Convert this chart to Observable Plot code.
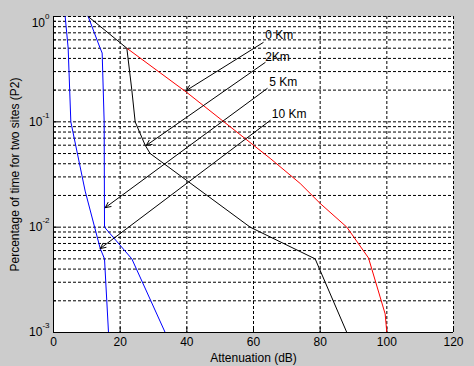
<!DOCTYPE html>
<html><head><meta charset="utf-8">
<script src="https://cdn.jsdelivr.net/npm/d3@7"></script>
<script src="https://cdn.jsdelivr.net/npm/@observablehq/plot@0.6"></script>
<style>
html,body{margin:0;padding:0;background:#cccccc;overflow:hidden;}
</style></head><body><div id="chart"></div>
<script>
// Tick values
const xTicks = [0, 20, 40, 60, 80, 100, 120];
const yMajorTicks = [1, 0.1, 0.01, 0.001];
const yMinorTicks = [0.002,0.003,0.004,0.005,0.006,0.007,0.008,0.009,
                     0.02,0.03,0.04,0.05,0.06,0.07,0.08,0.09,
                     0.2,0.3,0.4,0.5,0.6,0.7,0.8,0.9];

// Series (Attenuation dB, P2)
const km0Att = [22, 40, 65, 74, 80, 88, 94.5, 99.5, 100];
const km0P   = [0.5, 0.19, 0.045, 0.026, 0.0168, 0.01, 0.0051, 0.0015, 0.001];
const km2Att = [10.4, 22, 23.5, 24.5, 27.5, 29, 59, 78.5, 88];
const km2P   = [1, 0.5, 0.2, 0.1, 0.06, 0.05, 0.01, 0.005, 0.001];
const km5Att = [10.4, 14, 14.6, 15.2, 15.3, 23.5, 33.5];
const km5P   = [1, 0.5, 0.45, 0.1, 0.01, 0.005, 0.001];
const km10Att = [3.5, 4.4, 5.2, 9.5, 14, 15.3, 16.5];
const km10P   = [1, 0.5, 0.1, 0.022, 0.0063, 0.005, 0.001];

// Annotations
const labels = ["0 Km", "2Km", "5 Km", "10 Km"];
const labelAtt = [63.5, 63.5, 64.7, 65.5];
const labelP = [0.66, 0.411, 0.236, 0.119];
const arrowFromAtt = [62.9, 63.5, 64.1, 65];
const arrowFromP = [0.566, 0.366, 0.207, 0.103];
const arrowToAtt = [39.8, 27.8, 15.5, 14];
const arrowToP = [0.198, 0.0596, 0.0153, 0.00626];

const toRows = (xs, ys) => xs.map((x, i) => ({x, y: ys[i]}));
const ann = labels.map((t, i) => ({
  t, lx: labelAtt[i], ly: labelP[i],
  x1: arrowFromAtt[i], y1: arrowFromP[i], x2: arrowToAtt[i], y2: arrowToP[i]
}));

const W = 474, H = 366, ML = 53, MR = 21, MT = 16, MB = 34;
const fw = W - ML - MR, fh = H - MT - MB;

const chart = Plot.plot({
  width: W, height: H,
  marginLeft: ML, marginRight: MR, marginTop: MT, marginBottom: MB,
  style: {background: "#cccccc", fontFamily: "'Liberation Sans', Arial, sans-serif", fontSize: "12px", color: "black"},
  x: {domain: [0, 120], label: null},
  y: {type: "log", domain: [0.001, 1], label: null},
  marks: [
    Plot.frame({fill: "white", stroke: "none"}),
    Plot.ruleY([...yMinorTicks, ...yMajorTicks.slice(0, 3)], {stroke: "black", strokeDasharray: "3,2", strokeWidth: 1}),
    Plot.ruleX(xTicks.slice(1), {stroke: "black", strokeDasharray: "3,2", strokeWidth: 1}),
    Plot.ruleX(xTicks, {stroke: "black", insetTop: fh - 5}),
    Plot.ruleY(yMajorTicks, {stroke: "black", insetRight: fw - 5}),
    Plot.ruleY(yMinorTicks, {stroke: "black", insetRight: fw - 3}),
    Plot.line(toRows(km0Att, km0P), {x: "x", y: "y", stroke: "#ff0000", strokeWidth: 1}),
    Plot.line(toRows(km10Att, km10P), {x: "x", y: "y", stroke: "#0000ff", strokeWidth: 1}),
    Plot.line(toRows(km5Att, km5P), {x: "x", y: "y", stroke: "#0000ff", strokeWidth: 1}),
    Plot.line(toRows(km2Att, km2P), {x: "x", y: "y", stroke: "black", strokeWidth: 1}),
    Plot.arrow(ann, {x1: "x1", y1: "y1", x2: "x2", y2: "y2", stroke: "black", strokeWidth: 1, headLength: 9, headAngle: 50}),
    Plot.text(ann, {x: "lx", y: "ly", text: "t", textAnchor: "start", fill: "black", fontSize: 12}),
    Plot.ruleX([0], {stroke: "black"}),
    Plot.ruleY([0.001], {stroke: "black"}),
    Plot.axisX(xTicks, {tickSize: 0, tickPadding: 5, label: null, fontSize: 12}),
    Plot.axisY(yMajorTicks, {tickSize: 0, tickPadding: 4, label: null, fontSize: 12,
      tickFormat: d => "10|" + Math.round(Math.log10(d))}),
    Plot.text(["Attenuation (dB)"], {text: d => d, frameAnchor: "bottom", textAnchor: "middle", lineAnchor: "middle", dy: 26, fontSize: 12}),
    Plot.text(["Percentage of time for two sites (P2)"], {text: d => d, frameAnchor: "left", textAnchor: "middle", lineAnchor: "middle", dx: -38, rotate: -90, fontSize: 12})
  ]
});

// superscript exponents for y tick labels
d3.select(chart).selectAll('g[aria-label="y-axis tick label"] text').each(function() {
  const s = this.textContent;
  if (!s.includes("|")) return;
  const [base, exp] = s.split("|");
  const t = d3.select(this);
  t.text(null);
  const b = t.append("tspan").text(base);
  if (exp === "0") b.attr("dy", 7);
  t.append("tspan").attr("dy", -8).attr("font-size", 8).text(exp);
});

document.getElementById("chart").appendChild(chart);
</script>
</body></html>
